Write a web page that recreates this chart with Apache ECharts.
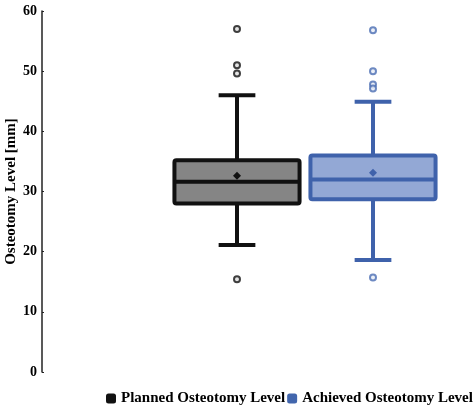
<!DOCTYPE html>
<html>
<head>
<meta charset="utf-8">
<script src="https://cdn.jsdelivr.net/npm/echarts@6/dist/echarts.min.js"></script>
<style>
  html, body { margin: 0; padding: 0; background: #fff; }
  #chart { width: 474px; height: 410px; }
</style>
</head>
<body>
<div id="chart"></div>
<script>
const categories = ['Planned Osteotomy Level', 'Achieved Osteotomy Level'];

// [low whisker, Q1, median, Q3, high whisker]
const plannedBox = [21.1, 28.0, 31.6, 35.2, 46.0];
const achievedBox = [18.6, 28.7, 32.0, 36.0, 44.9];

const plannedMean = 32.6;
const achievedMean = 33.1;

const plannedOutliers = [57.0, 51.0, 49.6, 15.4];
const achievedOutliers = [56.8, 50.0, 47.8, 47.1, 15.7];

const yTicks = [0, 10, 20, 30, 40, 50, 60];

const serifFont = '"Liberation Serif", "DejaVu Serif", serif';

function makeBoxRender(stroke, fill) {
    return function (params, api) {
        const x = api.value(0);
        const low = api.coord([x, api.value(1)]);
        const q1 = api.coord([x, api.value(2)]);
        const med = api.coord([x, api.value(3)]);
        const q3 = api.coord([x, api.value(4)]);
        const high = api.coord([x, api.value(5)]);
        const mean = api.coord([x, api.value(6)]);
        const band = api.size([1, 0])[0];
        const half = band * 0.46;
        const cap = band * 0.135;
        const lw = 4;
        const line = (x1, y1, x2, y2) => ({
            type: 'line',
            shape: { x1: x1, y1: y1, x2: x2, y2: y2 },
            style: { stroke: stroke, lineWidth: lw }
        });
        const cx = q1[0];
        const d = 4;
        return {
            type: 'group',
            children: [
                line(cx, high[1], cx, q3[1]),
                line(cx, q1[1], cx, low[1]),
                line(cx - cap, high[1], cx + cap, high[1]),
                line(cx - cap, low[1], cx + cap, low[1]),
                {
                    type: 'rect',
                    shape: { x: cx - half, y: q3[1], width: half * 2, height: q1[1] - q3[1], r: 2 },
                    style: { fill: fill, stroke: stroke, lineWidth: lw }
                },
                line(cx - half, med[1], cx + half, med[1]),
                {
                    type: 'polygon',
                    shape: { points: [[mean[0], mean[1] - d], [mean[0] + d, mean[1]], [mean[0], mean[1] + d], [mean[0] - d, mean[1]]] },
                    style: { fill: stroke }
                }
            ]
        };
    };
}

const chart = echarts.init(document.getElementById('chart'));

const option = {
    animation: false,
    backgroundColor: '#fff',
    grid: { left: 169, right: 33, top: 11, bottom: 38, outerBoundsMode: 'none', containLabel: false },
    legend: {
        data: categories,
        left: 106,
        bottom: 4,
        width: 440,
        padding: 0,
        itemWidth: 10,
        itemHeight: 10,
        itemGap: 2,
        icon: 'roundRect',
        textStyle: { fontFamily: serifFont, fontWeight: 'bold', fontSize: 15, color: '#000' }
    },
    xAxis: {
        type: 'category',
        data: categories,
        show: false
    },
    yAxis: {
        type: 'value',
        min: yTicks[0],
        max: yTicks[yTicks.length - 1],
        interval: 10,
        offset: 127,
        name: 'Osteotomy Level [mm]',
        nameLocation: 'middle',
        nameGap: 23,
        nameMoveOverlap: false,
        nameTextStyle: { fontFamily: serifFont, fontWeight: 'bold', fontSize: 15, color: '#000' },
        axisLine: { show: true, lineStyle: { color: '#222', width: 1.5 } },
        axisTick: { show: true, inside: true, length: 2, lineStyle: { color: '#222' } },
        axisLabel: { fontFamily: serifFont, fontWeight: 'bold', fontSize: 14, color: '#000', margin: 5 },
        splitLine: { show: false }
    },
    series: [
        {
            name: categories[0],
            type: 'custom',
            itemStyle: { color: '#111' },
            renderItem: makeBoxRender('#111', '#858585'),
            encode: { x: 0, y: [1, 2, 3, 4, 5, 6] },
            data: [[0].concat(plannedBox, [plannedMean])]
        },
        {
            name: categories[1],
            type: 'custom',
            itemStyle: { color: '#4266ad' },
            renderItem: makeBoxRender('#3f62ab', '#93a8d5'),
            encode: { x: 0, y: [1, 2, 3, 4, 5, 6] },
            data: [[1].concat(achievedBox, [achievedMean])]
        },
        {
            name: 'planned outliers',
            type: 'scatter',
            symbol: 'circle',
            symbolSize: 6,
            itemStyle: { color: '#ddd', borderColor: '#111', borderWidth: 2 },
            data: plannedOutliers.map(v => [0, v])
        },
        {
            name: 'achieved outliers',
            type: 'scatter',
            symbol: 'circle',
            symbolSize: 6,
            itemStyle: { color: '#e6ebf5', borderColor: '#4a6db3', borderWidth: 2 },
            data: achievedOutliers.map(v => [1, v])
        }
    ]
};

chart.setOption(option);
</script>
</body>
</html>
